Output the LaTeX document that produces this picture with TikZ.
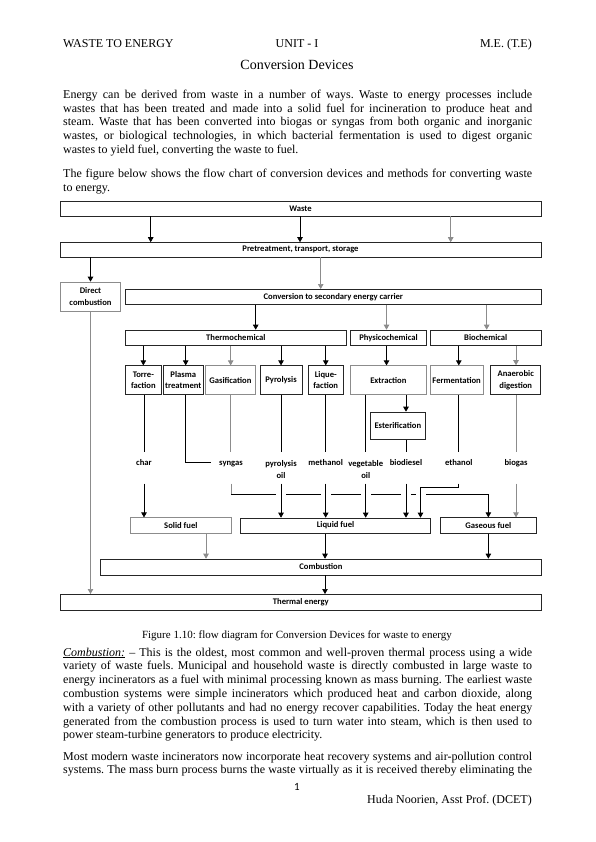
\documentclass[tikz,border=0pt]{standalone}
\usepackage{fontspec}
\setmainfont{Liberation Serif}
\newfontfamily\calfont{Carlito}
\usetikzlibrary{arrows.meta}
\frenchspacing
\newcommand\jline[1]{\makebox[469pt][s]{#1}}
\begin{document}
\begin{tikzpicture}[x=1pt,y=-1pt,
  box/.style={draw=black!85, line width=0.6pt, inner sep=0pt, align=center, font=\calfont\bfseries\fontsize{8.6}{11.5}\selectfont},
  gbox/.style={box, draw=black!45},
  lbl/.style={inner sep=0pt, align=center, font=\calfont\bfseries\fontsize{8.6}{12}\selectfont},
  slbl/.style={lbl, anchor=base},
  arr/.style={-{Triangle[width=5.5pt,length=5pt]}, line width=0.7pt, black},
  garr/.style={arr, black!45},
  ln/.style={line width=0.7pt, black},
  gln/.style={ln, black!45},
  gap/.style={white, line width=2.5pt},
  txt/.style={anchor=base west, inner sep=0pt, font=\fontsize{12}{13.8}\selectfont},
  ctxt/.style={anchor=base, inner sep=0pt, font=\fontsize{12}{13.8}\selectfont},
]
\useasboundingbox[fill=white] (0,0) rectangle (595,842);

% ---------- header and text above ----------
\node[txt] (h1) at (63,47.3) {WASTE TO ENERGY};
\node[ctxt] (h2) at (297,47.3) {UNIT - I};
\node[ctxt, anchor=base east] (h3) at (532,47.3) {M.E. (T.E)};
\node[ctxt, font=\fontsize{14}{16}\selectfont] (title) at (297,69.8) {Conversion Devices};

\node[txt] (p1) at (63,98.3) {\jline{Energy can be derived from waste in a number of ways. Waste to energy processes include}};
\node[txt] (p2) at (63,112.1) {\jline{wastes that has been treated and made into a solid fuel for incineration to produce heat and}};
\node[txt] (p3) at (63,125.9) {\jline{steam. Waste that has been converted into biogas or syngas from both organic and inorganic}};
\node[txt] (p4) at (63,139.7) {\jline{wastes, or biological technologies, in which bacterial fermentation is used to digest organic}};
\node[txt] (p5) at (63,153.5) {wastes to yield fuel, converting the waste to fuel.};
\node[txt] (q1) at (63,177.5) {\jline{The figure below shows the flow chart of conversion devices and methods for converting waste}};
\node[txt] (q2) at (63,191.3) {to energy.};

% ---------- flowchart boxes ----------
\node[box, minimum width=481pt, minimum height=14.5pt] (waste) at (300.5,208.75) {Waste};
\node[box, minimum width=481pt, minimum height=14.5pt] (pre) at (300.5,249.75) {Pretreatment, transport, storage};
\node[gbox, minimum width=59.6pt, minimum height=29pt] (direct) at (90.5,296.5) {Direct\\combustion};
\node[box, minimum width=415.3pt, minimum height=15pt] (conv) at (333.35,296.8) {Conversion to secondary energy carrier};
\node[box, minimum width=220.3pt, minimum height=15.5pt] (thermo) at (235.85,337.75) {Thermochemical};
\node[box, minimum width=75.6pt, minimum height=15.5pt] (physico) at (388.5,337.75) {Physicochemical};
\node[box, minimum width=110.5pt, minimum height=15.5pt] (bio) at (485.75,337.75) {Biochemical};

\node[box, minimum width=35.3pt, minimum height=28.8pt] (torr) at (143.35,380.1) {Torre-\\faction};
\node[box, minimum width=40pt, minimum height=28.8pt] (plasma) at (183.3,380.1) {Plasma\\treatment};
\node[gbox, minimum width=50.7pt, minimum height=28.8pt] (gasif) at (230.35,380.1) {Gasification};
\node[box, minimum width=42pt, minimum height=28.8pt] (pyro) at (281,380.1) {Pyrolysis};
\node[box, minimum width=34.5pt, minimum height=28.8pt] (lique) at (325.75,380.1) {Lique-\\faction};
\node[gbox, minimum width=76.7pt, minimum height=28.8pt] (extr) at (388.35,380.1) {Extraction};
\node[box, minimum width=54.3pt, minimum height=27.5pt] (ester) at (397.85,425.75) {Esterification};
\node[gbox, minimum width=53.3pt, minimum height=28.8pt] (ferm) at (456.65,380.1) {Fermentation};
\node[box, line width=1pt, minimum width=50pt, minimum height=28.8pt] (anaer) at (515.7,380.1) {Anaerobic\\digestion};

\node[slbl] (char) at (144,465) {char};
\node[slbl] (syn) at (231,465) {syngas};
\node[lbl] (pyo) at (281,470) {pyrolysis\\oil};
\node[slbl] (meth) at (325.7,465) {methanol};
\node[lbl] (veg) at (365.7,470) {vegetable\\oil};
\node[slbl] (biod) at (406,465) {biodiesel};
\node[slbl] (eth) at (458.8,465) {ethanol};
\node[slbl] (biog) at (516,465) {biogas};

\node[gbox, minimum width=100.3pt, minimum height=15.6pt] (solid) at (180.85,525.5) {Solid fuel};
\node[box, minimum width=190.4pt, minimum height=15.3pt] (liquid) at (335.5,525.65) {Liquid fuel};
\node[box, minimum width=95.3pt, minimum height=15.6pt] (gas) at (488.35,525.5) {Gaseous fuel};
\node[box, minimum width=440.3pt, minimum height=16pt] (comb) at (320.85,567) {Combustion};
\node[box, minimum width=480.3pt, minimum height=15.7pt] (thermal) at (300.85,602.15) {Thermal energy};

% ---------- x positions of connectors ----------
\coordinate (X151) at (150.7,0);
\coordinate (X300) at (300,0);
\coordinate (X451) at (450.7,0);
\coordinate (X321) at (320.7,0);
\coordinate (X256) at (255.7,0);
\coordinate (X387) at (386.5,0);
\coordinate (X487) at (486.7,0);
\coordinate (X186) at (185.7,0);
\coordinate (X231) at (230.7,0);
\coordinate (X406) at (406,0);
\coordinate (X421) at (420.5,0);
\coordinate (X206) at (206,0);
\coordinate (X325) at (325,0);
\coordinate (lt) at (0,452);
\coordinate (low) at (0,483.5);
\coordinate (hl) at (0,494);
\coordinate (e1) at (0,487.5);
\coordinate (pl) at (0,462);

% ---------- connectors ----------
\draw[arr] (waste.south -| X151) -- (pre.north -| X151);
\draw[arr] (waste.south -| X300) -- (pre.north -| X300);
\draw[garr] (waste.south -| X451) -- (pre.north -| X451);
\draw[arr] (pre.south -| direct) -- (direct.north);
\draw[garr] (pre.south -| X321) -- (conv.north -| X321);
\draw[arr] (conv.south -| X256) -- (thermo.north -| X256);
\draw[garr] (conv.south -| X387) -- (physico.north -| X387);
\draw[garr] (conv.south -| X487) -- (bio.north -| X487);

\draw[arr] (thermo.south -| torr) -- (torr.north);
\draw[arr] (thermo.south -| X186) -- (plasma.north -| X186);
\draw[garr] (thermo.south -| X231) -- (gasif.north -| X231);
\draw[arr] (thermo.south -| pyro) -- (pyro.north);
\draw[arr] (thermo.south -| lique) -- (lique.north);
\draw[arr] (physico.south -| X387) -- (extr.north -| X387);
\draw[arr] (bio.south -| eth) -- (ferm.north -| eth);
\draw[garr] (bio.south -| biog) -- (anaer.north -| biog);
\draw[arr, line width=1pt] (extr.south -| X406) -- (ester.north -| X406);

\draw[ln] (torr.south -| char) -- (char |- lt);
\draw[ln] (plasma.south -| X186) -- (X186 |- pl) -- ([xshift=-8pt]syn.west |- pl);
\draw[gln] (gasif.south -| X231) -- (X231 |- lt);
\draw[ln] (pyro.south -| pyo) -- (pyo |- lt);
\draw[ln] (lique.south -| meth) -- (meth |- lt);
\draw[ln] (extr.south -| veg) -- (veg |- lt);
\draw[ln, line width=1pt] (ester.south -| biod) -- (biod |- lt);
\draw[ln] (ferm.south -| eth) -- (eth |- lt);
\draw[gln] (anaer.south -| biog) -- (biog |- lt);

% lower part
\draw[arr] (char |- low) -- (solid.north -| char);
\draw[gln] (syn |- low) -- (syn |- hl);
\draw[arr] (syn |- hl) -- (gas |- hl) -- (gas.north);
\foreach \n in {pyo,meth,veg,biod,X421}{\draw[gap] (\n |- hl) ++(-5,0) -- ++(10,0);}
\draw[arr] (pyo |- low) -- (liquid.north -| pyo);
\draw[arr] (meth |- low) -- (liquid.north -| meth);
\draw[arr] (veg |- low) -- (liquid.north -| veg);
\draw[arr, line width=1pt] (biod |- low) -- (liquid.north -| biod);
\draw[arr] (eth |- low) -- (eth |- e1) -- (X421 |- e1) -- (liquid.north -| X421);
\draw[garr] (biog |- low) -- (gas.north -| biog);

\draw[garr] (solid.south -| X206) -- (comb.north -| X206);
\draw[arr] (liquid.south -| X325) -- (comb.north -| X325);
\draw[arr] (gas.south) -- (comb.north -| gas);
\draw[arr] (comb.south -| X325) -- (thermal.north -| X325);
\draw[garr] (direct.south) -- (thermal.north -| direct);

% ---------- text below ----------
\node[ctxt, font=\fontsize{11}{13}\selectfont] (cap) at (297,638.5) {Figure 1.10: flow diagram for Conversion Devices for waste to energy};
\node[txt] (c1) at (63,656) {\jline{\underline{\textit{Combustion:}} -- This is the oldest, most common and well-proven thermal process using a wide}};
\node[txt] (c2) at (63,669.8) {\jline{variety of waste fuels. Municipal and household waste is directly combusted in large waste to}};
\node[txt] (c3) at (63,683.6) {\jline{energy incinerators as a fuel with minimal processing known as mass burning. The earliest waste}};
\node[txt] (c4) at (63,697.4) {\jline{combustion systems were simple incinerators which produced heat and carbon dioxide, along}};
\node[txt] (c5) at (63,711.2) {\jline{with a variety of other pollutants and had no energy recover capabilities. Today the heat energy}};
\node[txt] (c6) at (63,725) {\jline{generated from the combustion process is used to turn water into steam, which is then used to}};
\node[txt] (c7) at (63,738.8) {power steam-turbine generators to produce electricity.};
\node[txt] (m1) at (63,760) {\jline{Most modern waste incinerators now incorporate heat recovery systems and air-pollution control}};
\node[txt] (m2) at (63,773.8) {\jline{systems. The mass burn process burns the waste virtually as it is received thereby eliminating the}};
\node[ctxt, font=\calfont\fontsize{11}{13}\selectfont] (pg) at (297,790) {1};
\node[ctxt, anchor=base east] (auth) at (532,803.5) {Huda Noorien, Asst Prof. (DCET)};
\end{tikzpicture}
\end{document}
